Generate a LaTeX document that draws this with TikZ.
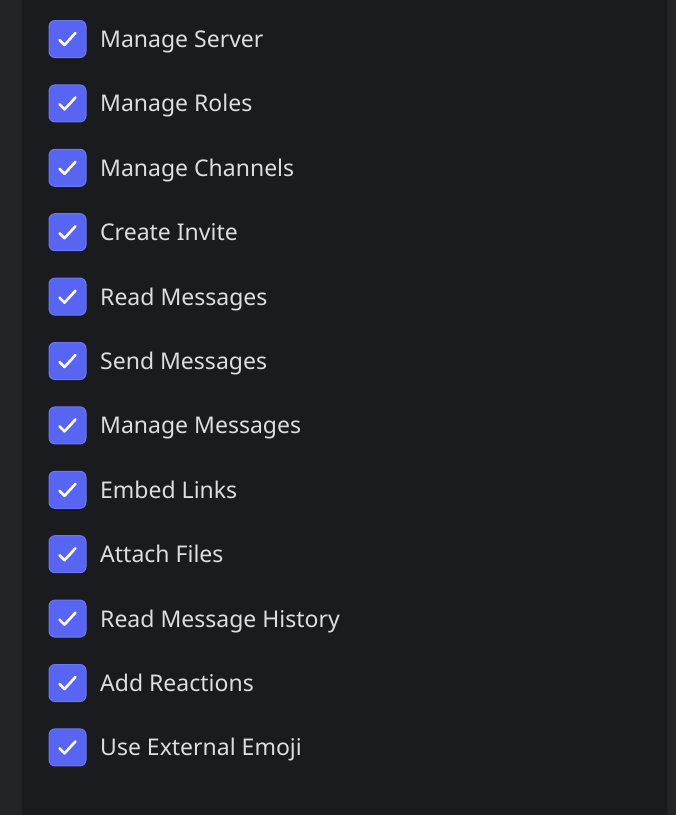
\documentclass[tikz,border=0pt]{standalone}
\usepackage{fontspec}
\setmainfont{Noto Sans}
\definecolor{bg}{HTML}{1A1B1E}
\definecolor{side}{HTML}{232428}
\definecolor{blurple}{HTML}{5865F2}
\definecolor{blurb}{HTML}{6B76F4}
\definecolor{txt}{HTML}{DBDEE1}
\begin{document}
\begin{tikzpicture}[x=1pt,y=-1pt,
  cbox/.style={draw=blurb,line width=1pt,fill=blurple,rounded corners=6pt,minimum size=37pt,inner sep=0pt},
  lbl/.style={anchor=base west,text=txt,font=\fontsize{23}{26}\selectfont,inner sep=0pt},
  tick/.style={draw=white,line width=2.6pt,line cap=round,line join=round}]
\useasboundingbox (0,0) rectangle (676,815);
\fill[bg] (0,0) rectangle (676,815);
\fill[side] (0,0) rectangle (22,815);
\fill[side] (667,0) rectangle (676,815);
\foreach \t [count=\i] in {Manage Server,Manage Roles,Manage Channels,Create Invite,Read Messages,Send Messages,Manage Messages,Embed Links,Attach Files,Read Message History,Add Reactions,Use External Emoji}{
  \pgfmathsetmacro{\yy}{39+64.4*(\i-1)}
  \node[cbox] (c\i) at (67.5,\yy) {};
  \draw[tick] ([shift={(-8,1)}]c\i.center) -- ([shift={(-3,6)}]c\i.center) -- ([shift={(8,-6)}]c\i.center);
  \node[lbl] (l\i) at (100,\yy+8.5) {\t};
}
\end{tikzpicture}
\end{document}
